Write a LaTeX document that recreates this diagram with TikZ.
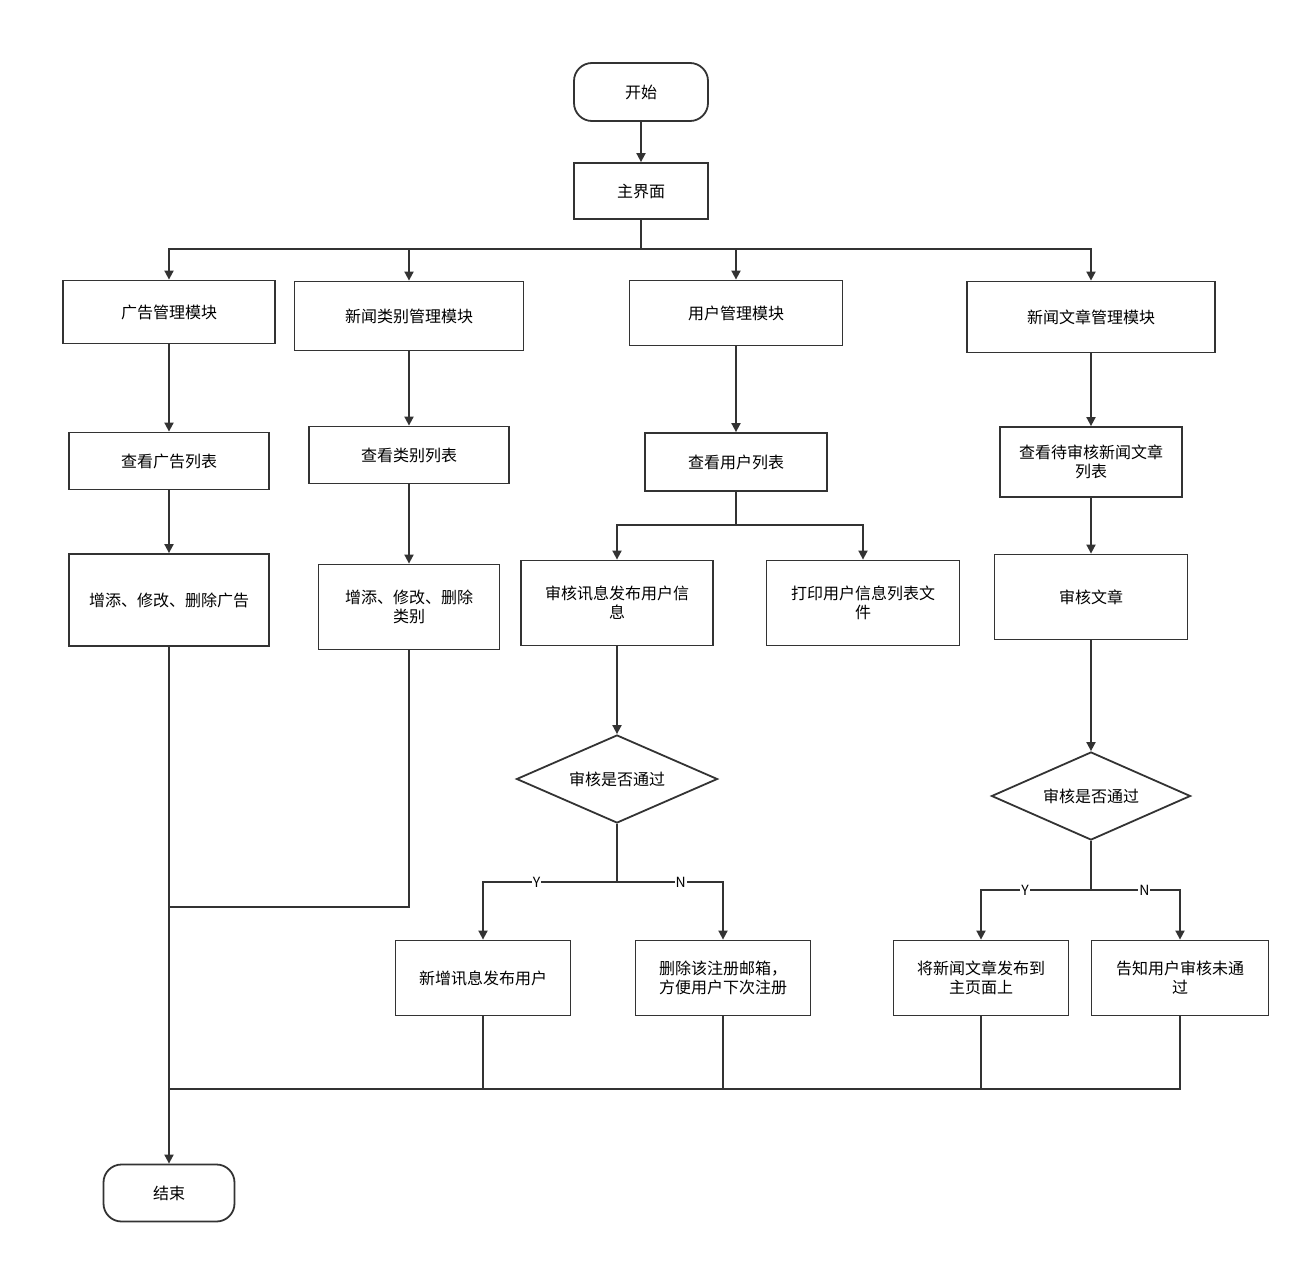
\documentclass[tikz,border=0pt]{standalone}
\usepackage{fontspec}
\newfontfamily\cjk{Noto Sans CJK SC}
\usetikzlibrary{shapes.geometric,arrows.meta}
\begin{document}
\begin{tikzpicture}[x=1pt,y=-1pt,
  line/.style={draw=black!80,line width=1.8pt},
  arr/.style={line,-{Triangle[length=9pt,width=9pt]}},
  box/.style={draw=black!80,line width=1.8pt,fill=white,inner sep=2pt,font=\cjk\fontsize{16pt}{19pt}\selectfont,align=center},
  term/.style={box,rounded corners=18pt},
  dia/.style={box,diamond,aspect=2.27,inner sep=0pt},
  yn/.style={fill=white,inner sep=1pt,font=\cjk\fontsize{14pt}{16pt}\selectfont}]
\useasboundingbox (0,0) rectangle (1310,1264);
\node[term,minimum width=134pt,minimum height=58pt] (start) at (641,92) {开始};
\node[box,minimum width=134pt,minimum height=56pt] (main) at (641,191) {主界面};
\node[box,minimum width=212pt,minimum height=63pt] (ad) at (169,312) {广告管理模块};
\node[box,minimum width=229pt,minimum height=69pt] (cat) at (409,316) {新闻类别管理模块};
\node[box,minimum width=213pt,minimum height=65pt] (user) at (736,313) {用户管理模块};
\node[box,minimum width=248pt,minimum height=71pt] (news) at (1091,317) {新闻文章管理模块};
\node[box,minimum width=200pt,minimum height=57pt] (adl) at (169,461) {查看广告列表};
\node[box,minimum width=200pt,minimum height=92pt] (ade) at (169,600) {增添、修改、删除广告};
\node[box,minimum width=200pt,minimum height=57pt] (catl) at (409,455) {查看类别列表};
\node[box,minimum width=181pt,minimum height=85pt] (cate) at (409,607) {增添、修改、删除\\类别};
\node[box,minimum width=192pt,minimum height=85pt] (ua) at (617,603) {审核讯息发布用户信\\息};
\node[box,minimum width=193pt,minimum height=85pt] (up) at (863,603) {打印用户信息列表文\\件};
\node[box,minimum width=182pt,minimum height=58pt] (ul) at (736,462) {查看用户列表};
\node[dia,minimum width=201pt,minimum height=88pt] (d1) at (617,779) {审核是否通过};
\node[box,minimum width=175pt,minimum height=75pt] (uy) at (483,978) {新增讯息发布用户};
\node[box,minimum width=175pt,minimum height=75pt] (un) at (723,978) {删除该注册邮箱，\\方便用户下次注册};
\node[box,minimum width=182pt,minimum height=70pt] (nl) at (1091,462) {查看待审核新闻文章\\列表};
\node[box,minimum width=193pt,minimum height=85pt] (na) at (1091,597) {审核文章};
\node[dia,minimum width=199pt,minimum height=88pt] (d2) at (1091,796) {审核是否通过};
\node[box,minimum width=175pt,minimum height=75pt] (ny) at (981,978) {将新闻文章发布到\\主页面上};
\node[box,minimum width=177pt,minimum height=75pt] (nn) at (1180,978) {告知用户审核未通\\过};
\node[term,minimum width=131pt,minimum height=57pt] (end) at (169,1193) {结束};
\coordinate (b1) at (641,249);
\draw[arr] (start) -- (main);
\draw[line] (main) -- (b1);
\draw[arr] (b1) -| (ad.north);
\draw[arr] (b1) -| (cat.north);
\draw[arr] (b1) -| (user.north);
\draw[arr] (b1) -| (news.north);
\draw[arr] (ad) -- (adl);
\draw[arr] (adl) -- (ade);
\draw[arr] (cat) -- (catl);
\draw[arr] (catl) -- (cate);
\draw[arr] (user) -- (ul);
\coordinate (b2) at (736,525);
\draw[line] (ul) -- (b2);
\draw[arr] (b2) -| (ua.north);
\draw[arr] (b2) -| (up.north);
\draw[arr] (ua) -- (d1);
\coordinate (b3) at (617,882);
\draw[line] (d1) -- (b3);
\draw[arr] (b3) -| node[pos=0.3,yn]{Y} (uy.north);
\draw[arr] (b3) -| node[pos=0.3,yn]{N} (un.north);
\draw[arr] (news) -- (nl);
\draw[arr] (nl) -- (na);
\draw[arr] (na) -- (d2);
\coordinate (b4) at (1091,890);
\draw[line] (d2) -- (b4);
\draw[arr] (b4) -| node[pos=0.3,yn]{Y} (ny.north);
\draw[arr] (b4) -| node[pos=0.3,yn]{N} (nn.north);
\coordinate (j1) at (169,907);
\coordinate (j2) at (169,1089);
\draw[arr] (ade) -- (end);
\draw[line] (cate.south) |- (j1);
\draw[line] (uy.south) |- (j2);
\draw[line] (un.south) |- (j2);
\draw[line] (ny.south) |- (j2);
\draw[line] (nn.south) |- (j2);
\end{tikzpicture}
\end{document}
